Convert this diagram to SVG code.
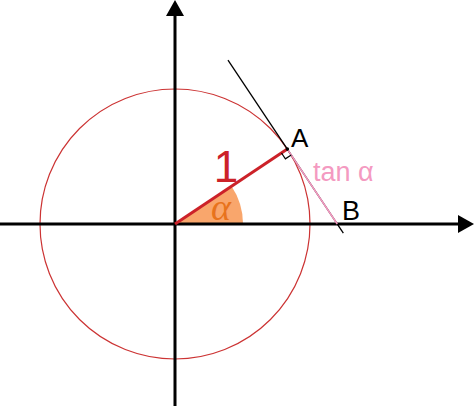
<svg xmlns="http://www.w3.org/2000/svg" width="474" height="406" viewBox="0 0 474 406">
  <style>
    .axis { stroke: #000; stroke-width: 3; fill: none; }
    .head { fill: #000; stroke: none; }
    .lbl { font-family: "Liberation Sans", Arial, sans-serif; }
  </style>
  <rect width="474" height="406" fill="#fff"/>
  <g id="circle">
    <circle cx="175" cy="224" r="135" fill="none" stroke="#cc3333" stroke-width="1.2"/>
  </g>
  <g id="angle">
    <path d="M175,224 L243,224 A68,68 0 0,0 231.58,186.28 Z" fill="#f9a66c"/>
    <text x="221" y="219.5" text-anchor="middle" font-family="'Liberation Serif', 'DejaVu Serif', serif" font-style="italic" font-size="38" fill="#e8731c">α</text>
  </g>
  <g id="axes">
    <line class="axis" x1="0" y1="224" x2="460" y2="224"/>
    <polygon class="head" points="458,215 474,224 458,233"/>
    <line class="axis" x1="175" y1="406" x2="175" y2="14"/>
    <polygon class="head" points="166,16 175,0 184,16"/>
  </g>
  <g id="connectors">
    <line id="radius" x1="175" y1="224" x2="287.33" y2="149.12" stroke="#cc2229" stroke-width="3"/>
    <line id="tangent" x1="227.98" y1="60.1" x2="343.35" y2="233.15" stroke="#000" stroke-width="1.3"/>
    <line id="tan-seg" x1="287.33" y1="149.12" x2="337.25" y2="224" stroke="#f49ac1" stroke-width="1.6"/>
    <polyline id="right-angle" points="281.5,153.0 285.4,158.8 291.2,154.9" fill="none" stroke="#000" stroke-width="1.2"/>
    <circle cx="287.33" cy="149.12" r="1.8" fill="#000"/>
  </g>
  <g id="labels">
    <text class="lbl" x="226" y="182" text-anchor="middle" font-size="44" fill="#cc2229">1</text>
    <text class="lbl" x="291" y="147" font-size="26" fill="#000">A</text>
    <text class="lbl" x="342" y="220" font-size="27" fill="#000">B</text>
    <text class="lbl" x="313" y="180.5" font-size="27" fill="#f49ac1">tan α</text>
  </g>
</svg>
